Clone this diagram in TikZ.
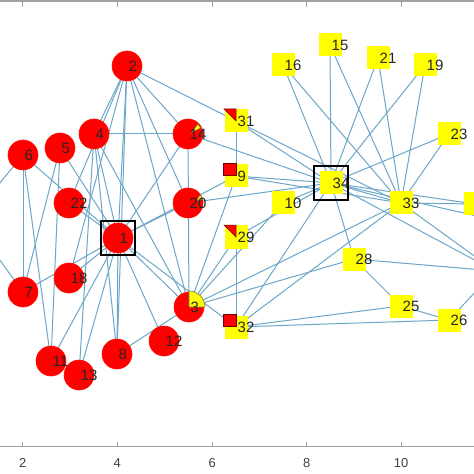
\documentclass[tikz,border=0pt]{standalone}
\usepackage{fontspec}
\setmainfont{Liberation Sans}
\usetikzlibrary{backgrounds}
\definecolor{edgec}{RGB}{108,166,200}
\definecolor{axc}{RGB}{160,160,160}
\definecolor{mred}{RGB}{255,0,0}
\definecolor{myel}{RGB}{255,255,0}
\tikzset{
  redv/.style={circle, fill=mred, draw=red!85!orange, line width=0.6bp, minimum size=30bp, inner sep=0pt},
  yelv/.style={rectangle, fill=myel, minimum size=23bp, inner sep=0pt},
  lab/.style={anchor=west, inner sep=0pt, font=\fontsize{15}{15}\selectfont, text=black!85},
  edgeln/.style={draw=edgec, line width=1bp},
  hubbox/.style={draw=black, line width=1.6bp, minimum size=34bp, inner sep=0pt},
  ticklab/.style={font=\fontsize{13}{13}\selectfont, text=black!75, inner sep=0pt},
  axisln/.style={draw=axc, line width=1.5bp},
  redpie/.style={fill=mred, draw=red!45!black, line width=0.5bp},
  yelpie/.style={fill=myel, draw=black!60!yellow, line width=0.6bp},
}
\begin{document}
\begin{tikzpicture}[x=1bp,y={(0bp,-1bp)}]
\useasboundingbox (0,0) rectangle (474,474);
\clip (0,0) rectangle (474,474);
% vertices
\node[redv] (n1) at (118,238) {};
\node[redv] (n2) at (127,66) {};
\node[redv] (n3) at (189,307) {};
\node[redv] (n4) at (94,134) {};
\node[redv] (n5) at (60,148) {};
\node[redv] (n6) at (23,155) {};
\node[redv] (n7) at (23,292) {};
\node[redv] (n8) at (117,354) {};
\node[yelv] (n9) at (236,176) {};
\node[yelv] (n10) at (283,203) {};
\node[redv] (n11) at (51,361) {};
\node[redv] (n12) at (164,341) {};
\node[redv] (n13) at (79,375) {};
\node[redv] (n14) at (188,134) {};
\node[yelv] (n15) at (330,45) {};
\node[yelv] (n16) at (283,65) {};
\coordinate (n17) at (-30,219);
\node[redv] (n18) at (69,278) {};
\node[yelv] (n19) at (425,65) {};
\node[redv] (n20) at (188,203) {};
\node[yelv] (n21) at (378,58) {};
\node[redv] (n22) at (69,203) {};
\node[yelv] (n23) at (449,134) {};
\coordinate (n24) at (495,271);
\node[yelv] (n25) at (401,306) {};
\node[yelv] (n26) at (449,320) {};
\coordinate (n27) at (530,228);
\node[yelv] (n28) at (354,259) {};
\node[yelv] (n29) at (236,237) {};
\node[yelv] (n30) at (475,204) {};
\node[yelv] (n31) at (236,121) {};
\node[yelv] (n32) at (236,327) {};
\node[yelv] (n33) at (401,203) {};
\node[yelv] (n34) at (331,183) {};
% edges
\begin{scope}[on background layer]
\fill[white] (0,0) rectangle (474,474);
\foreach \a/\b in {1/2,1/3,1/4,1/5,1/6,1/7,1/8,1/9,1/11,1/12,1/13,1/14,1/18,1/20,1/22,1/32,
  2/3,2/4,2/8,2/14,2/18,2/20,2/22,2/31,
  3/4,3/8,3/9,3/10,3/14,3/28,3/29,3/33,
  4/8,4/13,4/14,5/7,5/11,6/7,6/11,6/17,7/17,
  9/31,9/33,9/34,10/34,14/34,15/33,15/34,16/33,16/34,19/33,19/34,20/34,21/33,21/34,23/33,23/34,
  24/26,24/28,24/30,24/33,24/34,25/26,25/28,25/32,26/32,27/30,27/34,28/34,
  29/32,29/34,30/33,30/34,31/33,31/34,32/33,32/34,33/34}
  \draw[edgeln] (n\a.center) -- (n\b.center);
\end{scope}
% partial-membership marks
\draw[yelpie] (n3.center) -- ++(0:16bp) arc[start angle=0, end angle=90, radius=16bp] -- cycle;
\draw[yelpie] (n14.center) ++(25:4bp) -- ++(25:10bp) arc[start angle=25, end angle=45, radius=14bp] -- cycle;
\draw[yelpie] (n20.center) ++(15:9bp) -- ++(15:6bp) arc[start angle=15, end angle=35, radius=15bp] -- cycle;
\draw[redpie] (n9.center) ++(-13,-13) rectangle ++(13,12);
\draw[redpie] (n32.center) ++(-13,-13) rectangle ++(13,12);
\draw[redpie] (n31.center) ++(-12,-12) -- ++(12,0) -- ++(0,12) -- cycle;
\draw[redpie] (n29.center) ++(-12,-12) -- ++(12,0) -- ++(0,12) -- cycle;
% hub boxes
\node[hubbox] (b1) at (n1) {};
\node[hubbox] (b34) at (n34) {};
% labels
\foreach \v in {1,2,3,4,5,6,7,8,9,10,11,12,13,14,15,16,18,19,20,21,22,23,25,26,28,29,31,32,33,34}
  \node[lab] (l\v) at ([xshift=1.5bp]n\v.center) {\v};
% axes
\draw[axisln] (0,1) -- (474,1);
\draw[axisln] (0,446.5) -- (474,446.5);
\foreach \x/\t in {22.7/2,117.3/4,212.3/6,306.7/8,401/10}{
  \draw[draw=axc, line width=1bp] (\x,1) -- (\x,7);
  \draw[draw=axc, line width=1bp] (\x,446.5) -- (\x,441.5);
  \node[ticklab] (t\t) at (\x,463) {\t};
}
\end{tikzpicture}
\end{document}
